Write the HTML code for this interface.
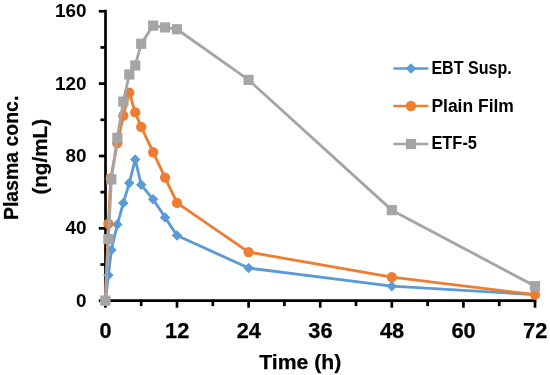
<!DOCTYPE html>
<html lang="en">
<head>
<meta charset="utf-8">
<title>Plasma concentration vs time</title>
<style>
html,body{margin:0;padding:0;background:#fff;}
body{width:550px;height:375px;overflow:hidden;}
svg{display:block;}
text{font-family:"Liberation Sans",sans-serif;font-weight:bold;fill:#000;}
.tk{font-size:18px;}
.tkx{font-size:21.4px;stroke:#000;stroke-width:0.25px;}
.ttl{font-size:20.9px;stroke:#000;stroke-width:0.25px;}
.lg{font-size:18px;}
</style>
</head>
<body>
<svg width="550" height="375" viewBox="0 0 550 375">
<rect x="0" y="0" width="550" height="375" fill="#ffffff"/>
<g stroke="#000" stroke-width="2.7" fill="none" stroke-linecap="butt">
<line x1="105.5" y1="9.81" x2="105.5" y2="302.05"/>
<line x1="104.15" y1="300.70" x2="536.37" y2="300.70"/>
<line x1="98.8" y1="300.70" x2="105.5" y2="300.70"/>
<line x1="100.4" y1="264.52" x2="105.5" y2="264.52"/>
<line x1="98.8" y1="228.34" x2="105.5" y2="228.34"/>
<line x1="100.4" y1="192.16" x2="105.5" y2="192.16"/>
<line x1="98.8" y1="155.98" x2="105.5" y2="155.98"/>
<line x1="100.4" y1="119.80" x2="105.5" y2="119.80"/>
<line x1="98.8" y1="83.62" x2="105.5" y2="83.62"/>
<line x1="100.4" y1="47.44" x2="105.5" y2="47.44"/>
<line x1="98.8" y1="11.26" x2="105.5" y2="11.26"/>
<line x1="105.40" y1="300.70" x2="105.40" y2="307.7"/>
<line x1="141.20" y1="300.70" x2="141.20" y2="306.1"/>
<line x1="177.00" y1="300.70" x2="177.00" y2="307.7"/>
<line x1="212.81" y1="300.70" x2="212.81" y2="306.1"/>
<line x1="248.61" y1="300.70" x2="248.61" y2="307.7"/>
<line x1="284.41" y1="300.70" x2="284.41" y2="306.1"/>
<line x1="320.21" y1="300.70" x2="320.21" y2="307.7"/>
<line x1="356.01" y1="300.70" x2="356.01" y2="306.1"/>
<line x1="391.82" y1="300.70" x2="391.82" y2="307.7"/>
<line x1="427.62" y1="300.70" x2="427.62" y2="306.1"/>
<line x1="463.42" y1="300.70" x2="463.42" y2="307.7"/>
<line x1="499.22" y1="300.70" x2="499.22" y2="306.1"/>
<line x1="535.02" y1="300.70" x2="535.02" y2="307.7"/>
</g>
<polyline points="105.4,300.6 108.38,275.27 111.37,249.95 117.33,224.62 123.3,202.91 129.27,183.02 135.24,159.5 141.2,184.82 153.14,199.3 165.07,217.39 177.0,235.48 248.61,268.04 391.82,286.13 535.02,294.63" fill="none" stroke="#5B9BD5" stroke-width="2.85" stroke-linejoin="round" stroke-linecap="round"/>
<path d="M100.15,300.60 L105.40,295.35 L110.65,300.60 L105.40,305.85Z" fill="#5B9BD5"/>
<path d="M103.13,275.27 L108.38,270.02 L113.63,275.27 L108.38,280.52Z" fill="#5B9BD5"/>
<path d="M106.12,249.95 L111.37,244.70 L116.62,249.95 L111.37,255.20Z" fill="#5B9BD5"/>
<path d="M112.08,224.62 L117.33,219.37 L122.58,224.62 L117.33,229.87Z" fill="#5B9BD5"/>
<path d="M118.05,202.91 L123.30,197.66 L128.55,202.91 L123.30,208.16Z" fill="#5B9BD5"/>
<path d="M124.02,183.02 L129.27,177.77 L134.52,183.02 L129.27,188.27Z" fill="#5B9BD5"/>
<path d="M129.99,159.50 L135.24,154.25 L140.49,159.50 L135.24,164.75Z" fill="#5B9BD5"/>
<path d="M135.95,184.82 L141.20,179.57 L146.45,184.82 L141.20,190.07Z" fill="#5B9BD5"/>
<path d="M147.89,199.30 L153.14,194.05 L158.39,199.30 L153.14,204.55Z" fill="#5B9BD5"/>
<path d="M159.82,217.39 L165.07,212.14 L170.32,217.39 L165.07,222.64Z" fill="#5B9BD5"/>
<path d="M171.75,235.48 L177.00,230.23 L182.25,235.48 L177.00,240.73Z" fill="#5B9BD5"/>
<path d="M243.36,268.04 L248.61,262.79 L253.86,268.04 L248.61,273.29Z" fill="#5B9BD5"/>
<path d="M386.57,286.13 L391.82,280.88 L397.07,286.13 L391.82,291.38Z" fill="#5B9BD5"/>
<path d="M529.77,294.63 L535.02,289.38 L540.27,294.63 L535.02,299.88Z" fill="#5B9BD5"/>
<polyline points="105.4,300.6 108.38,223.72 110.77,178.13 117.33,143.22 123.3,115.72 129.27,92.57 135.24,112.46 141.2,126.94 153.14,152.26 165.07,177.59 177.0,202.91 248.61,252.12 391.82,277.08 535.02,294.63" fill="none" stroke="#ED7D31" stroke-width="2.85" stroke-linejoin="round" stroke-linecap="round"/>
<circle cx="105.40" cy="300.60" r="5.15" fill="#ED7D31"/>
<circle cx="108.38" cy="223.72" r="5.15" fill="#ED7D31"/>
<circle cx="110.77" cy="178.13" r="5.15" fill="#ED7D31"/>
<circle cx="117.33" cy="143.22" r="5.15" fill="#ED7D31"/>
<circle cx="123.30" cy="115.72" r="5.15" fill="#ED7D31"/>
<circle cx="129.27" cy="92.57" r="5.15" fill="#ED7D31"/>
<circle cx="135.24" cy="112.46" r="5.15" fill="#ED7D31"/>
<circle cx="141.20" cy="126.94" r="5.15" fill="#ED7D31"/>
<circle cx="153.14" cy="152.26" r="5.15" fill="#ED7D31"/>
<circle cx="165.07" cy="177.59" r="5.15" fill="#ED7D31"/>
<circle cx="177.00" cy="202.91" r="5.15" fill="#ED7D31"/>
<circle cx="248.61" cy="252.12" r="5.15" fill="#ED7D31"/>
<circle cx="391.82" cy="277.08" r="5.15" fill="#ED7D31"/>
<circle cx="535.02" cy="294.63" r="5.15" fill="#ED7D31"/>
<polyline points="105.4,300.6 108.38,239.09 111.37,179.4 117.33,137.79 123.3,101.61 129.27,74.48 135.24,65.43 141.2,43.72 153.14,25.63 165.07,27.44 177.0,29.25 248.61,79.9 391.82,210.15 535.02,286.13" fill="none" stroke="#A5A5A5" stroke-width="2.85" stroke-linejoin="round" stroke-linecap="round"/>
<rect x="100.30" y="295.50" width="10.2" height="10.2" fill="#A5A5A5"/>
<rect x="103.28" y="233.99" width="10.2" height="10.2" fill="#A5A5A5"/>
<rect x="106.27" y="174.30" width="10.2" height="10.2" fill="#A5A5A5"/>
<rect x="112.23" y="132.69" width="10.2" height="10.2" fill="#A5A5A5"/>
<rect x="118.20" y="96.51" width="10.2" height="10.2" fill="#A5A5A5"/>
<rect x="124.17" y="69.38" width="10.2" height="10.2" fill="#A5A5A5"/>
<rect x="130.14" y="60.33" width="10.2" height="10.2" fill="#A5A5A5"/>
<rect x="136.10" y="38.62" width="10.2" height="10.2" fill="#A5A5A5"/>
<rect x="148.04" y="20.53" width="10.2" height="10.2" fill="#A5A5A5"/>
<rect x="159.97" y="22.34" width="10.2" height="10.2" fill="#A5A5A5"/>
<rect x="171.90" y="24.15" width="10.2" height="10.2" fill="#A5A5A5"/>
<rect x="243.51" y="74.80" width="10.2" height="10.2" fill="#A5A5A5"/>
<rect x="386.72" y="205.05" width="10.2" height="10.2" fill="#A5A5A5"/>
<rect x="529.92" y="281.03" width="10.2" height="10.2" fill="#A5A5A5"/>
<text class="tk" x="86.4" y="306.60" text-anchor="end" textLength="10.5" lengthAdjust="spacingAndGlyphs">0</text>
<text class="tk" x="86.4" y="234.24" text-anchor="end" textLength="21.0" lengthAdjust="spacingAndGlyphs">40</text>
<text class="tk" x="86.4" y="161.88" text-anchor="end" textLength="21.0" lengthAdjust="spacingAndGlyphs">80</text>
<text class="tk" x="86.4" y="89.52" text-anchor="end" textLength="31.5" lengthAdjust="spacingAndGlyphs">120</text>
<text class="tk" x="86.4" y="17.16" text-anchor="end" textLength="31.5" lengthAdjust="spacingAndGlyphs">160</text>
<text class="tkx" x="105.60" y="338.2" text-anchor="middle" textLength="12.0" lengthAdjust="spacingAndGlyphs">0</text>
<text class="tkx" x="177.20" y="338.2" text-anchor="middle" textLength="24.2" lengthAdjust="spacingAndGlyphs">12</text>
<text class="tkx" x="248.81" y="338.2" text-anchor="middle" textLength="24.2" lengthAdjust="spacingAndGlyphs">24</text>
<text class="tkx" x="320.41" y="338.2" text-anchor="middle" textLength="24.2" lengthAdjust="spacingAndGlyphs">36</text>
<text class="tkx" x="392.02" y="338.2" text-anchor="middle" textLength="24.2" lengthAdjust="spacingAndGlyphs">48</text>
<text class="tkx" x="463.62" y="338.2" text-anchor="middle" textLength="24.2" lengthAdjust="spacingAndGlyphs">60</text>
<text class="tkx" x="535.22" y="338.2" text-anchor="middle" textLength="24.2" lengthAdjust="spacingAndGlyphs">72</text>
<text class="ttl" x="300.2" y="368.7" text-anchor="middle" textLength="82" lengthAdjust="spacingAndGlyphs">Time (h)</text>
<text class="ttl" transform="translate(17.8,157.9) rotate(-90)" text-anchor="middle" textLength="124.4" lengthAdjust="spacingAndGlyphs">Plasma conc.</text>
<text class="ttl" transform="translate(47.3,156.8) rotate(-90)" text-anchor="middle" textLength="75.6" lengthAdjust="spacingAndGlyphs">(ng/mL)</text>
<line x1="393.4" y1="68.6" x2="428.4" y2="68.6" stroke="#5B9BD5" stroke-width="2.5" stroke-linecap="butt"/>
<path d="M405.75,68.60 L411.00,63.35 L416.25,68.60 L411.00,73.85Z" fill="#5B9BD5"/>
<text class="lg" x="431.4" y="73.80" textLength="80.3" lengthAdjust="spacingAndGlyphs">EBT Susp.</text>
<line x1="393.4" y1="106.0" x2="428.4" y2="106.0" stroke="#ED7D31" stroke-width="2.5" stroke-linecap="butt"/>
<circle cx="411.00" cy="106.00" r="5.15" fill="#ED7D31"/>
<text class="lg" x="431.4" y="111.70" textLength="82.5" lengthAdjust="spacingAndGlyphs">Plain Film</text>
<line x1="393.4" y1="144.0" x2="428.4" y2="144.0" stroke="#A5A5A5" stroke-width="2.5" stroke-linecap="butt"/>
<rect x="405.90" y="138.90" width="10.2" height="10.2" fill="#A5A5A5"/>
<text class="lg" x="431.4" y="149.30" textLength="45.6" lengthAdjust="spacingAndGlyphs">ETF-5</text>
</svg>
</body>
</html>
